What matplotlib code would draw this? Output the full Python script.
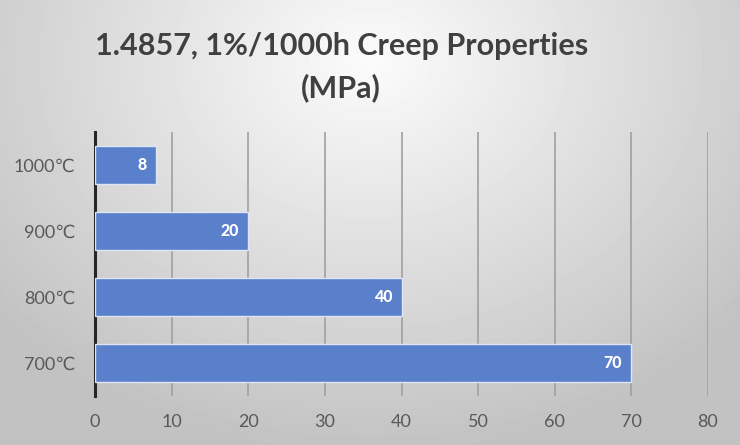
import numpy as np
import matplotlib
matplotlib.use("Agg")
import matplotlib.pyplot as plt

plt.rcParams["font.family"] = ["Lato", "DejaVu Sans"]

# ---------------------------------------------------------------------------
# Data
# ---------------------------------------------------------------------------
categories = ["700\u2103", "800\u2103", "900\u2103", "1000\u2103"]
values = [70, 40, 20, 8]
x_ticks = [0, 10, 20, 30, 40, 50, 60, 70, 80]
title = "1.4857, 1%/1000h Creep Properties\n(MPa)"

# ---------------------------------------------------------------------------
# Style
# ---------------------------------------------------------------------------
BAR = "#5B80CB"
GRID = "#a0a0a0"
TEXT = "#595959"
TITLE = "#404040"

fig = plt.figure(figsize=(7.4, 4.45), dpi=100)

# radial gradient background
bg = fig.add_axes([0, 0, 1, 1], zorder=-10)
yy, xx = np.mgrid[0:445, 0:740]
r = np.sqrt(((xx - 370) / 520.0) ** 2 + ((yy - 60) / 420.0) ** 2)
shade = np.clip(0.985 - 0.24 * r, 0.76, 1.0)
bg.imshow(shade, cmap="gray", vmin=0, vmax=1, aspect="auto",
          extent=[0, 1, 0, 1], interpolation="bilinear")
bg.axis("off")

ax = fig.add_axes([95 / 740, 1 - 396 / 445, 613 / 740, 264 / 445])
ax.patch.set_alpha(0)

y = np.arange(len(categories))
ax.barh(y, values, height=0.58, color=BAR, edgecolor="#dfe6f3",
        linewidth=1.0, zorder=3)
for yi, v in zip(y, values):
    ax.text(v - 1.2, yi, str(v), ha="right", va="center", color="white",
            fontsize=11.5, fontweight="black", zorder=4)

ax.set_xlim(0, 80)
ax.set_ylim(-0.5, len(categories) - 0.5)
ax.set_xticks(x_ticks)
ax.set_yticks(y)
ax.set_yticklabels(categories)
ax.xaxis.grid(True, color=GRID, linewidth=1.2, zorder=0)
ax.set_axisbelow(True)

for s in ("top", "right", "bottom"):
    ax.spines[s].set_visible(False)
ax.spines["left"].set_color("#262626")
ax.spines["left"].set_linewidth(2.2)
ax.tick_params(axis="both", length=0, labelsize=13, colors=TEXT)
ax.tick_params(axis="x", pad=13)
ax.tick_params(axis="y", pad=14)

fig.text(0.461, 0.85, title, ha="center", va="center", fontsize=22,
         fontweight="bold", color=TITLE, linespacing=1.55)

fig.savefig("out.png", dpi=100)
